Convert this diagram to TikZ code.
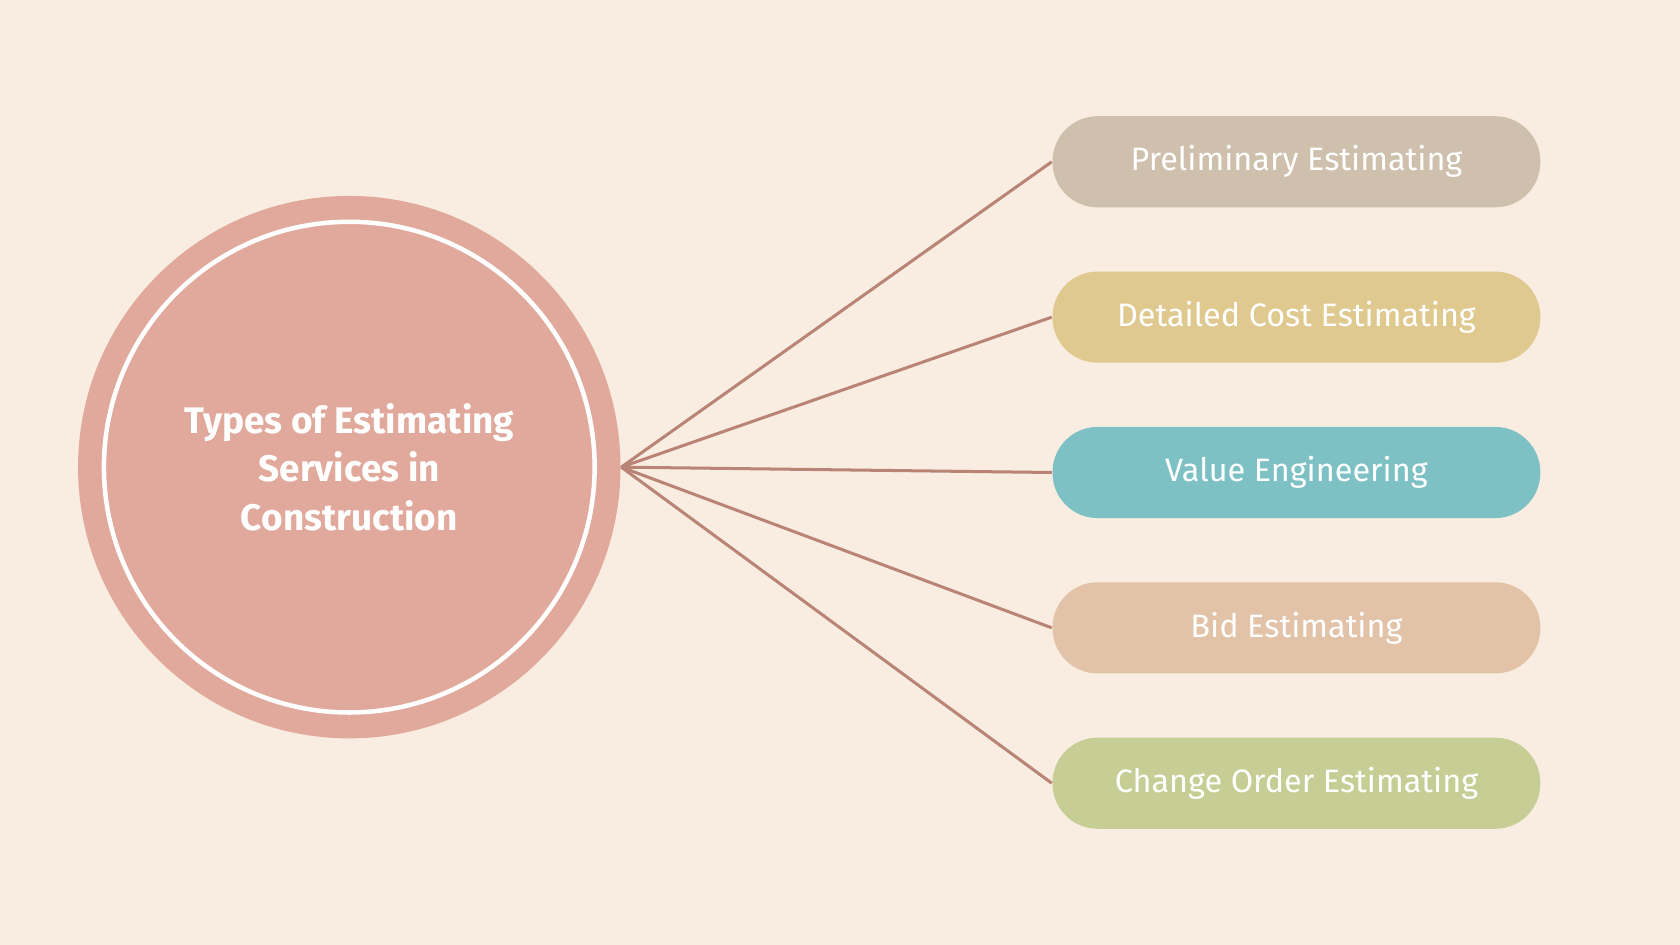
\documentclass[tikz,border=0pt]{standalone}
\usepackage{fontspec}
\setmainfont{Fira Sans}
\usepackage{tikz}
\usetikzlibrary{positioning,calc}
\definecolor{bgcol}{HTML}{F8EDE0}
\definecolor{hubcol}{HTML}{E1A99B}
\definecolor{linkcol}{HTML}{B98475}
\definecolor{prelimcol}{HTML}{CFC0AD}
\definecolor{detailcol}{HTML}{DFC98F}
\definecolor{valuecol}{HTML}{7DC1C4}
\definecolor{bidcol}{HTML}{E2C3A7}
\definecolor{changecol}{HTML}{C6CE95}
\tikzset{pill/.style={rectangle, rounded corners=4.2mm, minimum width=4.55cm, minimum height=0.85cm, text=white, font=\fontsize{8.6pt}{10pt}\selectfont},
link/.style={linkcol, line width=0.8pt}}

\begin{document}
\begin{tikzpicture}[x=0.01cm,y=-0.01cm]
		\fill[bgcol] (0,0) rectangle (1568,882);
		\node[circle,fill=hubcol,minimum size=5.06cm,inner sep=0] (hub) at (326,436) {};
		\draw[white,line width=1.2pt] (hub.center) circle (229);
		\node[text=white,align=center,font=\bfseries\fontsize{9.8pt}{12.8pt}\selectfont] at (hub.center) {Types of Estimating\\Services in\\Construction};
		\node[pill,fill=prelimcol] (prelim) at (1210,151) {Preliminary Estimating};
		\node[pill,fill=detailcol] (detail) at (1210,296) {Detailed Cost Estimating};
		\node[pill,fill=valuecol] (value) at (1210,441) {Value Engineering};
		\node[pill,fill=bidcol] (bid) at (1210,586) {Bid Estimating};
		\node[pill,fill=changecol] (change) at (1210,731) {Change Order Estimating};
		\foreach \n in {prelim,detail,value,bid,change}
		\draw[link] (hub.east) -- (\n.west);
		\end{tikzpicture}
\end{document}
